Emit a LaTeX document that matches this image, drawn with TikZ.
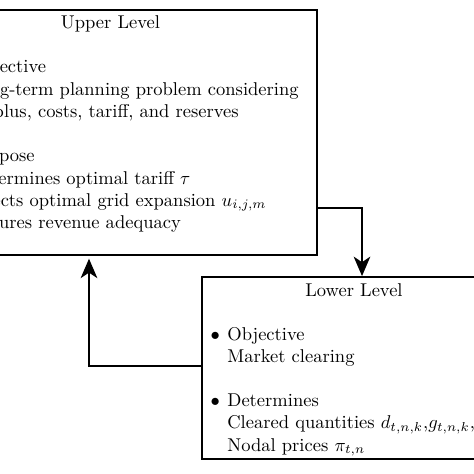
\documentclass[tikz,border=0pt]{standalone}
\usetikzlibrary{arrows.meta,fit}
\begin{document}
\begin{tikzpicture}[x=0.54pt, y=-0.54pt,
  box/.style={draw, line width=1pt, inner sep=0pt},
  arr/.style={-{Stealth[length=10.5pt, width=9pt, inset=3pt]}, thick},
  txt/.style={anchor=base west, inner sep=0pt},
  ttl/.style={anchor=base, inner sep=0pt}]
  \useasboundingbox (0,0) rectangle (474,474);
  \clip (0,0) rectangle (474,474);
  \node[box, fit={(-96,10) (317,255)}] (upper) {};
  \node[box, fit={(202,277) (506,459)}] (lower) {};
  \node[ttl] (uptitle) at (110.5,29) {Upper Level};
  \node[txt] (upobj) at (-31.5,73) {\llap{$\bullet$\hspace{4pt}}Objective};
  \node[txt] (upobja) at (-31.5,95.2) {Long-term planning problem considering};
  \node[txt] (upobjb) at (-31.5,117.4) {surplus, costs, tariff, and reserves};
  \node[txt] (uppur) at (-31.5,161.8) {\llap{$\bullet$\hspace{4pt}}Purpose};
  \node[txt] (uppura) at (-31.5,184) {Determines optimal tariff $\tau$};
  \node[txt] (uppurb) at (-31.5,206.2) {Selects optimal grid expansion $u_{i,j,m}$};
  \node[txt] (uppurc) at (-31.5,228.4) {Ensures revenue adequacy};
  \node[ttl] (lowtitle) at (354,296) {Lower Level};
  \node[txt] (lowobj) at (227,340) {\llap{$\bullet$\hspace{4pt}}Objective};
  \node[txt] (lowobja) at (227,362.2) {Market clearing};
  \node[txt] (lowdet) at (227,406.6) {\llap{$\bullet$\hspace{4pt}}Determines};
  \node[txt] (lowdeta) at (227,428.8) {Cleared quantities $d_{t,n,k}$,$g_{t,n,k}$,$p_{t,n,k}$};
  \node[txt] (lowdetb) at (227,451) {Nodal prices $\pi_{t,n}$};
  \coordinate (elbowR) at (362,208);
  \coordinate (elbowL) at (89,366);
  \draw[arr] (upper.east |- elbowR) -| (lower.north -| elbowR);
  \draw[arr, shorten >=1.5pt] (lower.west |- elbowL) -| (upper.south -| elbowL);
\end{tikzpicture}
\end{document}
